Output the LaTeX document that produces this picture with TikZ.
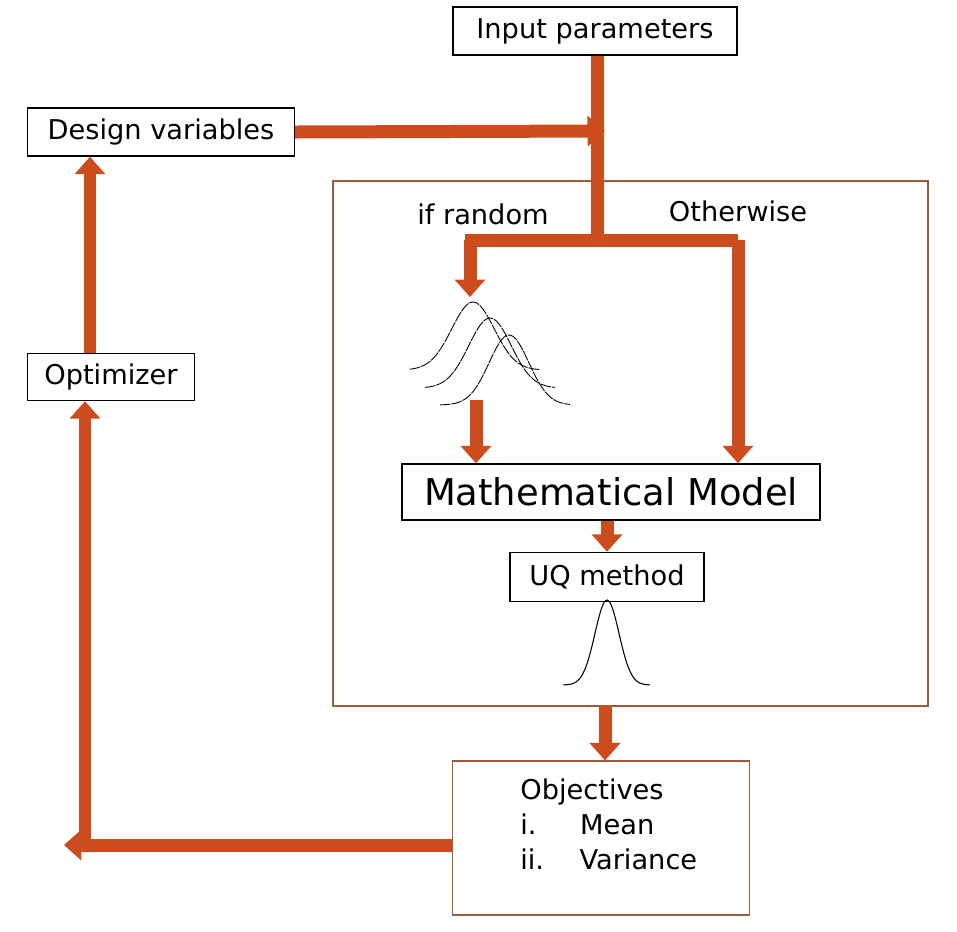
\documentclass[tikz,border=0pt]{standalone}
\usepackage{fontspec}
\setmainfont{DejaVu Sans}
\usetikzlibrary{arrows.meta}
\definecolor{flow}{RGB}{204,76,30}
\definecolor{frame}{RGB}{160,90,60}
\begin{document}
\begin{tikzpicture}[x=0.02cm,y=-0.02cm,
  box/.style={draw,line width=0.8pt,inner sep=0pt,fill=white},
  pipe/.style={draw=flow,line width=0.26cm,-{Triangle[width=0.6cm,length=0.35cm]}},
  bar/.style={draw=flow,line width=0.26cm},
  gauss/.style={black,line width=0.5pt,dash pattern=on 6pt off 0.6pt,smooth,samples=60}]
\useasboundingbox (0,0) rectangle (957,931);
% outer frame
\draw[frame,line width=0.6pt] (333,181) rectangle (928,706);
% boxes
\node[box,minimum width=284*0.02cm,minimum height=48*0.02cm,font=\fontsize{15.5}{17}\selectfont] (inp) at (595,31) {Input parameters};
\node[box,minimum width=267*0.02cm,minimum height=48*0.02cm,font=\fontsize{15.5}{17}\selectfont] (des) at (161,132) {Design variables};
\node[box,minimum width=167*0.02cm,minimum height=47*0.02cm,font=\fontsize{15.5}{17}\selectfont] (opt) at (111,377) {Optimizer};
\node[box,minimum width=418*0.02cm,minimum height=56*0.02cm,font=\fontsize{21}{24}\selectfont] (mm) at (611,492) {Mathematical Model};
\node[box,minimum width=194*0.02cm,minimum height=49*0.02cm,font=\fontsize{15.5}{17}\selectfont] (uq) at (607,577) {UQ method};
\node[draw=frame,line width=0.6pt,minimum width=297*0.02cm,minimum height=154*0.02cm] (obj) at (601,838) {};
\node[anchor=north west,inner sep=0pt,font=\fontsize{15.5}{20}\selectfont,align=left] (objt) at (520,778)
  {Objectives\\i.\hspace{1.6em}Mean\\ii.\hspace{1.3em}Variance};
% labels
\node[font=\fontsize{15.5}{17}\selectfont] (lr) at (483,214) {if random};
\node[font=\fontsize{15.5}{17}\selectfont] (lo) at (738,211) {Otherwise};
% junctions
\coordinate (j) at (597,240);
\coordinate (jl) at (470,240);
\coordinate (jr) at (738,240);
\coordinate (dj) at (605,131);
\coordinate (g1) at (476,400);
\coordinate (lb) at (85,845);
% connectors
\draw[pipe] (des.east) -- (dj);
\draw[bar] (inp.south -| j) -- ([yshift=-3]j);
\draw[bar] ([xshift=-3]jl) -- (jr);
\draw[pipe] (jl) -- ++(0,57);
\draw[pipe] (jr) -- (jr |- mm.north);
\draw[pipe] (g1) -- (g1 |- mm.north);
\draw[pipe] (mm.south -| uq) -- (uq.north);
\draw[pipe] (605,706) -- (obj.north -| 605,0);
\draw[pipe] (obj.west |- lb) -- ([xshift=-12]lb);
\draw[pipe] (lb) -- (opt.south -| lb);
\draw[pipe] (opt.north -| 90,0) -- (des.south -| 90,0);
% gaussians
\draw[gauss,domain=410:540] plot (\x,{370-68*exp(-((\x-473)/30)^2)});
\draw[gauss,domain=425:555] plot (\x,{388-70*exp(-((\x-490)/30)^2)});
\draw[gauss,domain=440:570] plot (\x,{405-70*exp(-((\x-509)/28)^2)});
\draw[black,line width=0.6pt,smooth,samples=60,domain=563:650] plot (\x,{685-85*exp(-((\x-607)/17)^2)});
\end{tikzpicture}
\end{document}
